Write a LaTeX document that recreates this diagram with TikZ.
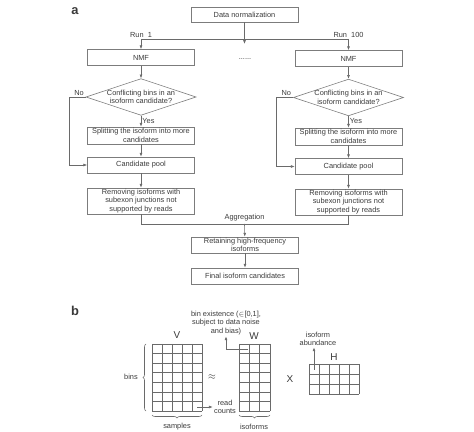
\documentclass[tikz,border=0pt]{standalone}
\usepackage{fontspec}
\setmainfont{Liberation Sans}
\usetikzlibrary{shapes.geometric,arrows.meta,decorations.pathreplacing}
\definecolor{boxgray}{HTML}{7C7C7C}
\definecolor{linegray}{HTML}{6A6A6A}
\definecolor{txtgray}{HTML}{3A3A3A}
\tikzset{
    box/.style={draw=boxgray, line width=0.5pt, minimum width=3.21cm, minimum height=0.48cm,
        inner sep=0pt, align=center, text=txtgray, font=\fontsize{6.3}{7.3}\selectfont},
    decision/.style={diamond, aspect=3, draw=boxgray, line width=0.5pt, inner sep=0pt,
        align=center, text=txtgray, font=\fontsize{6.3}{7.3}\selectfont},
    note/.style={inner sep=1pt, text=txtgray, font=\fontsize{6.3}{7.3}\selectfont},
    panel/.style={inner sep=0pt, text=txtgray, font=\fontsize{11}{12}\selectfont\bfseries},
    mlabel/.style={inner sep=0pt, text=txtgray, font=\fontsize{8.5}{9}\selectfont},
    wire/.style={draw=linegray, line width=0.5pt},
    flow/.style={wire, -{Latex[length=3.2pt,width=2.4pt]}},
    cell/.style={draw=linegray, line width=0.5pt},
    brace/.style={wire, decorate, decoration={brace, amplitude=2.5pt}},
}
\begin{document}
\begin{tikzpicture}[x=0.03cm, y=-0.03cm]
\useasboundingbox (0,0) rectangle (474,432);
% panel a
\node[panel] (la) at (75,11) {a};
\node[box, minimum height=0.45cm] (norm) at (244.5,14.5) {Data normalization};
\node[note] (dots) at (245,59) {......};
\node[box] (nmf1) at (141,57.5) {NMF};
\node[box] (nmf2) at (348.5,58.5) {NMF};
\node[decision] (dec1) at (141,97) {Conflicting bins in an\\isoform candidate?};
\node[decision] (dec2) at (348.5,97.5) {Conflicting bins in an\\isoform candidate?};
\node[box, minimum height=0.51cm] (split1) at (141,135.5) {Splitting the isoform into more\\candidates};
\node[box, minimum height=0.51cm] (split2) at (348.5,136.5) {Splitting the isoform into more\\candidates};
\node[box] (pool1) at (141,165) {Candidate pool};
\node[box] (pool2) at (348.5,166.5) {Candidate pool};
\node[box, minimum height=0.78cm] (rem1) at (141,201) {Removing isoforms with\\subexon junctions not\\supported by reads};
\node[box, minimum height=0.78cm] (rem2) at (348.5,202) {Removing isoforms with\\subexon junctions not\\supported by reads};
\node[box] (retain) at (245,245) {Retaining high-frequency\\isoforms};
\node[box] (final) at (245,276) {Final isoform candidates};

\coordinate (run1) at (141,39);
\coordinate (run100) at (348.5,39);
\coordinate (stub) at (244.5,44);
\coordinate (no1) at (69,97);
\coordinate (no2) at (276,97.5);
\coordinate (agg1) at (141,224);
\coordinate (agg2) at (348.5,224);
\coordinate (agg) at (244.5,224);

\node[note, above] (lrun1) at (run1) {Run\ \ 1};
\node[note, above] (lrun100) at (run100) {Run\ \ 100};
\node[note, above=1pt] (lagg) at (agg) {Aggregation};

\draw[flow] (norm.south) -- (stub);
\draw[wire] (run1) -- (run100);
\draw[flow] (run1) -- (nmf1.north);
\draw[flow] (run100) -- (nmf2.north);
\draw[flow] (nmf1) -- (dec1);
\draw[flow] (nmf2) -- (dec2);
\draw[flow] (dec1) -- node[note, right, pos=0.45] {Yes} (split1);
\draw[flow] (dec2) -- node[note, right, pos=0.45] {Yes} (split2);
\draw[flow] (dec1.west) -- node[note, above, pos=0.4] {No} (no1) |- (pool1.west);
\draw[flow] (dec2.west) -- node[note, above, pos=0.4] {No} (no2) |- (pool2.west);
\draw[flow] (split1) -- (pool1);
\draw[flow] (split2) -- (pool2);
\draw[flow] (pool1) -- (rem1);
\draw[flow] (pool2) -- (rem2);
\draw[wire] (rem1.south) -- (agg1) -- (agg2) -- (rem2.south);
\draw[flow] (agg) -- (retain);
\draw[flow] (retain) -- (final);

% panel b
\node[panel] (lb) at (75,311) {b};
\foreach \i in {0,...,5} \draw[cell] ({152+10*\i},344) -- ({152+10*\i},411);
\foreach \j in {0,...,7} \draw[cell] (152,{344+67/7*\j}) -- (202,{344+67/7*\j});
\foreach \i in {0,...,3} \draw[cell] ({239+31/3*\i},344) -- ({239+31/3*\i},411);
\foreach \j in {0,...,7} \draw[cell] (239,{344+67/7*\j}) -- (270,{344+67/7*\j});
\foreach \i in {0,...,5} \draw[cell] ({309+10*\i},364) -- ({309+10*\i},394);
\foreach \j in {0,...,3} \draw[cell] (309,{364+10*\j}) -- (359,{364+10*\j});

\node[mlabel] (labV) at (177,335) {V};
\node[mlabel] (labW) at (254,336) {W};
\node[mlabel] (labH) at (334,357) {H};
\node[mlabel] (approx) at (212,377) {$\approx$};
\node[mlabel] (times) at (290,379) {X};

\draw[brace] (146,411) -- (146,344);
\draw[brace] (202,415) -- (152,415);
\draw[brace] (270,415) -- (239,415);
\node[note] (bins) at (131,377) {bins};
\node[note] (samples) at (177,427) {samples};
\node[note] (isoforms) at (254,427) {isoforms};

\node[note, align=center] (reads) at (225,407) {read\\counts};
\node[note, align=center] (binex) at (226,323) {bin existence ($\in$[0,1],\\subject to data noise\\and bias)};
\node[note, align=center] (abund) at (318,339) {isoform\\abundance};
\coordinate (vcell) at (197,407);
\coordinate (wcell) at (248,349);
\coordinate (hcell) at (314,370);
\draw[flow] (vcell) -- (reads.west);
\draw[flow] (wcell) -| (binex.south);
\draw[flow] (hcell) -- (hcell |- abund.south);
\end{tikzpicture}
\end{document}
